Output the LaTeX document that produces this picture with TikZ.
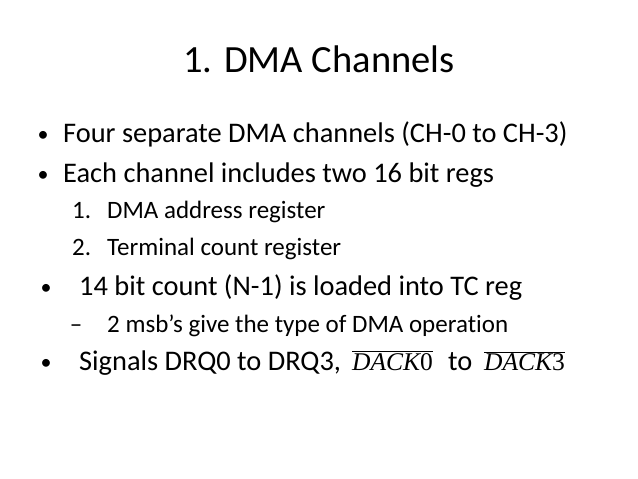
\documentclass[tikz,border=0pt]{standalone}
\usepackage{fontspec}
\setmainfont{Carlito}[Ligatures=NoCommon]
\newfontfamily\dackfont{Liberation Serif}
\newcommand{\dack}[1]{{\dackfont\fontsize{25.5}{25.5}\selectfont$\overline{\mbox{\itshape DACK\upshape #1}}$}}
\begin{document}
\begin{tikzpicture}[x=1pt,y=-1pt,
  txt/.style={anchor=base west,inner sep=0pt,text=black},
  big/.style={txt,font=\fontsize{28.4}{28.4}\selectfont},
  small/.style={txt,font=\fontsize{25}{25}\selectfont},
  dot/.style={anchor=base,inner sep=0pt,font=\fontsize{22}{22}\selectfont}]
\useasboundingbox[fill=white] (0,0) rectangle (638,479);
\node[anchor=base,inner sep=0pt,font=\fontsize{38.5}{38.5}\selectfont] (title) at (319,72) {1. DMA Channels};
\node[dot] (b1) at (43,141) {•};
\node[big] (t1) at (63,142) {Four separate DMA channels (CH-0 to CH-3)};
\node[dot] (b2) at (43,181) {•};
\node[big] (t2) at (63,182) {Each channel includes two 16 bit regs};
\node[small] (n1) at (72,218) {1.};
\node[small] (i1) at (107,218) {DMA address register};
\node[small] (n2) at (72,255) {2.};
\node[small] (i2) at (107,255) {Terminal count register};
\node[dot] (b3) at (46,294) {•};
\node[big] (t3) at (79,295) {14 bit count (N-1) is loaded into TC reg};
\node[dot,font=\fontsize{25}{25}\selectfont] (d1) at (76,332) {–};
\node[small] (t4) at (107,332) {2 msb’s give the type of DMA operation};
\node[dot] (b4) at (46,369) {•};
\node[big] (t5) at (79,370) {Signals DRQ0 to DRQ3,};
\node[txt] (k0) at (352,370) {\dack{0}};
\node[big] (to) at (448,370) {to};
\node[txt] (k3) at (484,370) {\dack{3}};
\end{tikzpicture}
\end{document}
